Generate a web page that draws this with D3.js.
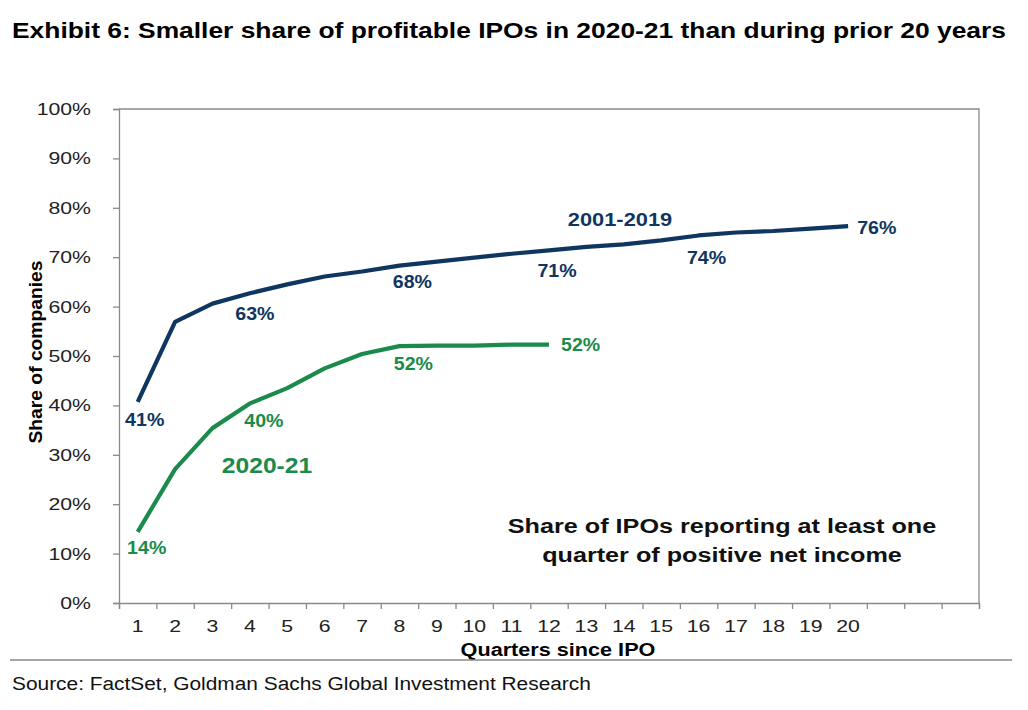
<!DOCTYPE html>
<html>
<head>
<meta charset="utf-8">
<script src="https://cdn.jsdelivr.net/npm/d3@7"></script>
<style>
  body { margin: 0; background: #fff; }
  svg { font-family: "Liberation Sans", Arial, sans-serif; }
</style>
</head>
<body>
<div id="chart"></div>
<script>
// Share of IPOs reporting at least one quarter of positive net income

const quarters = d3.range(1, 24);           // axis runs to 23 slots, labelled 1-20
const tickLabels = d3.range(1, 21).map(String);
const yTicks = [0, 10, 20, 30, 40, 50, 60, 70, 80, 90, 100];

const series2001 = [40.7, 56.9, 60.6, 62.7, 64.5, 66.1, 67.1, 68.3, 69.1, 69.9,
                    70.7, 71.4, 72.1, 72.6, 73.4, 74.4, 75.0, 75.3, 75.8, 76.3];
const series2020 = [14.4, 27.1, 35.4, 40.4, 43.5, 47.5, 50.4, 52.0, 52.1, 52.1,
                    52.3, 52.3];

// which quarters carry a value label
const labelled2001 = [1, 4, 8, 12, 16, 20];
const labelled2020 = [1, 4, 8, 12];

const navy = '#0f3660';
const green = '#1b8b4b';
const grey = '#8a8a8a';

const W = 1028, H = 710;
const margin = { top: 109, right: 49, bottom: 107, left: 119 };
const width = W - margin.left - margin.right;
const height = H - margin.top - margin.bottom;

const svg = d3.select('#chart').append('svg')
    .attr('width', W)
    .attr('height', H);

// the source exhibit uses a wide face, so text gets stretched sideways
function addText(parent, x, y, str, o) {
    const t = parent.append('g')
        .attr('transform', `translate(${x},${y}) scale(${o.sx || 1},1)`)
        .append('text')
        .attr('text-anchor', o.anchor || 'start')
        .attr('fill', o.fill || '#111')
        .style('font-size', o.size + 'px')
        .style('font-weight', o.bold ? 'bold' : 'normal')
        .text(str);
    return t;
}

// Title
addText(svg, 12, 38, 'Exhibit 6: Smaller share of profitable IPOs in 2020-21 than during prior 20 years',
    { size: 22, sx: 1.2, bold: true, fill: '#000' });

const g = svg.append('g')
    .attr('transform', `translate(${margin.left},${margin.top})`);

// Scales
const x = d3.scaleBand()
    .domain(quarters)
    .range([0, width])
    .padding(0);

const xEdge = d3.scaleLinear()
    .domain([0, quarters.length])
    .range([0, width]);

const y = d3.scaleLinear()
    .domain([0, 100])
    .range([height, 0]);

const cx = q => x(q) + x.bandwidth() / 2;

// Plot frame (top and right)
g.append('path')
    .attr('d', `M0,0H${width}V${height}`)
    .attr('fill', 'none')
    .attr('stroke', grey)
    .attr('stroke-width', 1.3);

// Y axis
const tickSx = 1.25;
const yAxis = g.append('g')
    .call(d3.axisLeft(y).tickValues(yTicks).tickSize(6).tickPadding(22)
        .tickFormat(d => d + '%'));
yAxis.select('.domain').attr('stroke', grey).attr('stroke-width', 1.3);
yAxis.selectAll('.tick line').attr('stroke', grey).attr('stroke-width', 1.3);
yAxis.selectAll('.tick text')
    .attr('x', -28 / tickSx)
    .attr('transform', `scale(${tickSx},1)`)
    .style('font-size', '17px')
    .style('font-family', '"Liberation Sans", Arial, sans-serif')
    .attr('fill', '#222');

// X axis: ticks on category boundaries
const xAxisTicks = g.append('g')
    .attr('transform', `translate(0,${height})`)
    .call(d3.axisBottom(xEdge).ticks(quarters.length).tickSize(6).tickFormat(''));
xAxisTicks.select('.domain').attr('stroke', grey).attr('stroke-width', 1.3);
xAxisTicks.selectAll('.tick line').attr('stroke', grey).attr('stroke-width', 1.3);

// X axis labels centred in each category
const xAxisLabels = g.append('g')
    .attr('transform', `translate(0,${height})`)
    .call(d3.axisBottom(x).tickValues(tickLabels.map(Number)).tickSize(0).tickPadding(17));
xAxisLabels.select('.domain').remove();
xAxisLabels.selectAll('.tick text')
    .attr('transform', `scale(${tickSx},1)`)
    .style('font-size', '17px')
    .style('font-family', '"Liberation Sans", Arial, sans-serif')
    .attr('fill', '#222');

// Axis titles
addText(svg, 558, 656, 'Quarters since IPO', { size: 18.5, sx: 1.17, bold: true, anchor: 'middle', fill: '#000' });

svg.append('text')
    .attr('transform', 'translate(42,352) rotate(-90)')
    .attr('text-anchor', 'middle')
    .attr('textLength', 183)
    .attr('lengthAdjust', 'spacingAndGlyphs')
    .style('font-size', '18.5px')
    .style('font-weight', 'bold')
    .text('Share of companies');

// Lines
const line = d3.line()
    .x((d, i) => cx(quarters[i]))
    .y(d => y(d));

g.append('path')
    .datum(series2001)
    .attr('fill', 'none')
    .attr('stroke', navy)
    .attr('stroke-width', 4.2)
    .attr('stroke-linejoin', 'round')
    .attr('d', line);

g.append('path')
    .datum(series2020)
    .attr('fill', 'none')
    .attr('stroke', green)
    .attr('stroke-width', 4.2)
    .attr('stroke-linejoin', 'round')
    .attr('d', line);

// Value labels: offsets from the point, in label order
const offsets2001 = [[7, 24, 'middle'], [5, 27, 'middle'], [13, 22, 'middle'],
                     [8, 27, 'middle'], [8, 29, 'middle'], [9, 8, 'start']];
const offsets2020 = [[9, 22, 'middle'], [14, 24, 'middle'], [14, 24, 'middle'],
                     [12, 6, 'start']];

function addLabels(series, quartersToLabel, offsets, color) {
    quartersToLabel.forEach((q, i) => {
        addText(g, cx(q) + offsets[i][0], y(series[q - 1]) + offsets[i][1],
            Math.round(series[q - 1]) + '%',
            { size: 17.5, sx: 1.12, bold: true, anchor: offsets[i][2], fill: color });
    });
}

addLabels(series2001, labelled2001, offsets2001, navy);
addLabels(series2020, labelled2020, offsets2020, green);

// Series names
addText(svg, 620, 226, '2001-2019', { size: 18.5, sx: 1.18, bold: true, anchor: 'middle', fill: navy });
addText(svg, 267, 473, '2020-21', { size: 22, sx: 1.12, bold: true, anchor: 'middle', fill: green });

// Annotation
addText(svg, 722, 533, 'Share of IPOs reporting at least one', { size: 21, sx: 1.2, bold: true, anchor: 'middle', fill: '#111' });
addText(svg, 722, 562, 'quarter of positive net income', { size: 21, sx: 1.2, bold: true, anchor: 'middle', fill: '#111' });

// Source separator and note
svg.append('line')
    .attr('x1', 10).attr('x2', 1012)
    .attr('y1', 660).attr('y2', 660)
    .attr('stroke', grey)
    .attr('stroke-width', 1.5);

addText(svg, 12, 690, 'Source: FactSet, Goldman Sachs Global Investment Research', { size: 18, sx: 1.16, fill: '#111' });
</script>
</body>
</html>
